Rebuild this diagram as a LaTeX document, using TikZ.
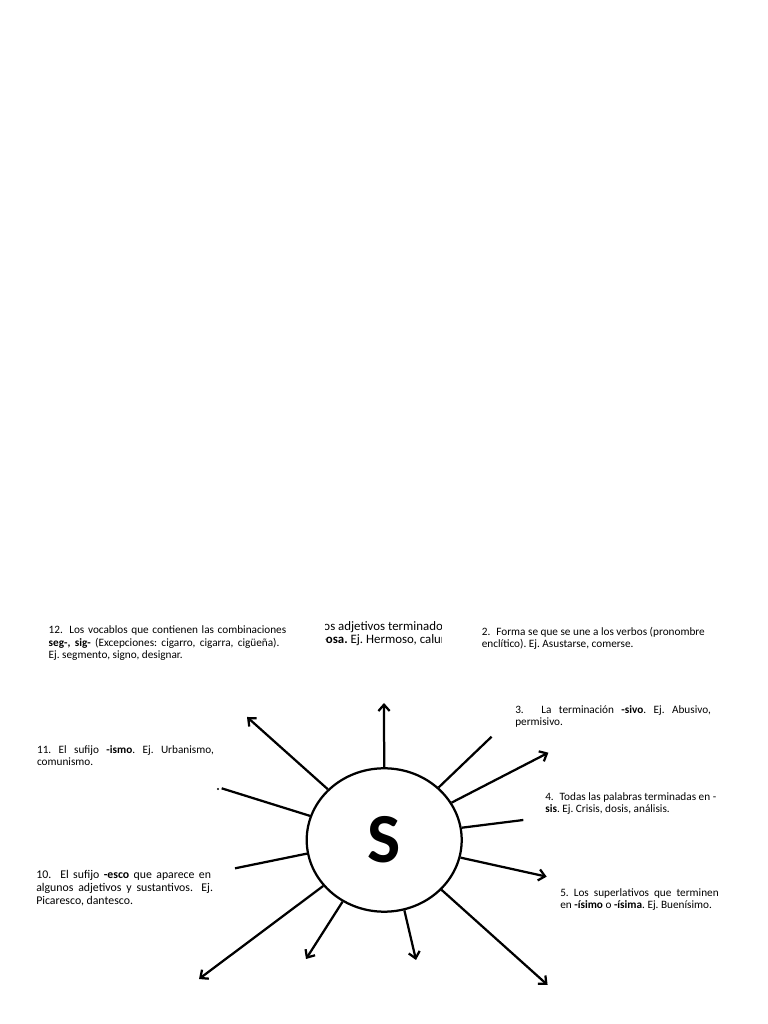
\documentclass[tikz,border=0pt]{standalone}
\usepackage{fontspec}
\setmainfont{Carlito}
\usetikzlibrary{arrows.meta}
\usetikzlibrary{shapes.geometric}

\begin{document}
\frenchspacing
\begin{tikzpicture}[
  ray/.style={line width=1.6pt},
  rayarrow/.style={line width=1.6pt,-{Straight Barb[length=4.5pt,width=8pt]}},
  note/.style={font=\fontsize{8}{8.6}\selectfont,anchor=base west,inner sep=0pt,align=left}]
\useasboundingbox (0,0) rectangle (19.2,25.6);

\node[draw,ellipse,line width=1.6pt,minimum width=3.875cm,minimum height=3.585cm,inner sep=0pt,font=\fontsize{50}{50}\selectfont\bfseries] (S) at (9.605,4.6) {S};

\coordinate (e1) at (9.6,8.025);
\coordinate (e2) at (6.175,7.675);
\coordinate (e3) at (12.29,7.183);
\coordinate (e4) at (13.71,6.783);
\coordinate (e5) at (13.083,5.1);
\coordinate (e6) at (13.667,3.683);
\coordinate (e7) at (13.69,0.975);
\coordinate (e8) at (10.4,1.6);
\coordinate (e9) at (7.65,1.625);
\coordinate (e10) at (4.975,1.125);
\coordinate (e11) at (5.875,3.892);
\coordinate (e12) at (5.542,5.892);

\draw[rayarrow] (S.90) -- (e1);
\draw[rayarrow] (S.138.3) -- (e2);
\draw[ray] (S.44.6) -- (e3);
\draw[rayarrow] (S.29) -- (e4);
\draw[ray] (S.9) -- (e5);
\draw[rayarrow] (S.-13.5) -- (e6);
\draw[rayarrow] (S.-41) -- (e7);
\draw[rayarrow] (S.-74.7) -- (e8);
\draw[rayarrow] (S.236.7) -- (e9);
\draw[rayarrow] (S.217.5) -- (e10);
\draw[ray] (S.190.5) -- (e11);
\draw[ray] (S.162.7) -- (e12);
\fill (5.45,5.875) circle (0.03);

% the notes are placed by the baseline of their last line
\begin{scope}
\clip (8.125,9.3) rectangle (11.025,10.3);
\node[note,font=\fontsize{9.15}{9.1}\selectfont] (n1) at (7.945,9.518) {Los adjetivos terminados en\\\hspace*{0.3em}\textbf{-osa.} Ej. Hermoso, caluroso.};
\end{scope}

\node[note,font=\fontsize{8}{8.9}\selectfont] (n12) at (1.21,9.125) {\makebox[5.94cm][s]{12.\hspace{0.25em} Los vocablos que contienen las combinaciones}\\\makebox[5.77cm][s]{\textbf{seg-, sig-} (Excepciones: cigarro, cigarra, cigüeña).}\\Ej. segmento, signo, designar.};
\node[note] (n2) at (12.04,9.41) {2.\hspace{0.3em} Forma se que se une a los verbos (pronombre\\enclítico). Ej. Asustarse, comerse.};
\node[note] (n3) at (12.875,7.45) {\makebox[4.89cm][s]{3.\hspace{0.9em} La terminación \textbf{-sivo}. Ej. Abusivo,}\\permisivo.};
\node[note] (n4) at (13.625,5.28) {4.\hspace{0.3em} Todas las palabras terminadas en -\\\textbf{sis}. Ej. Crisis, dosis, análisis.};
\node[note] (n5) at (14.0,2.875) {\makebox[3.96cm][s]{5. Los superlativos que terminen}\\en \textbf{-ísimo} o \textbf{-ísima}. Ej. Buenísimo.};
\node[note,font=\fontsize{8.4}{9.25}\selectfont] (n10) at (0.9,2.975) {\makebox[4.37cm][s]{10.\hspace{0.4em} El sufijo \textbf{-esco} que aparece en}\\\makebox[4.42cm][s]{algunos adjetivos y sustantivos.\hspace{0.3em} Ej.}\\Picaresco, dantesco.};
\node[note] (n11) at (0.92,6.45) {\makebox[4.42cm][s]{11. El sufijo \textbf{-ismo}. Ej. Urbanismo,}\\comunismo.};

\end{tikzpicture}
\end{document}
